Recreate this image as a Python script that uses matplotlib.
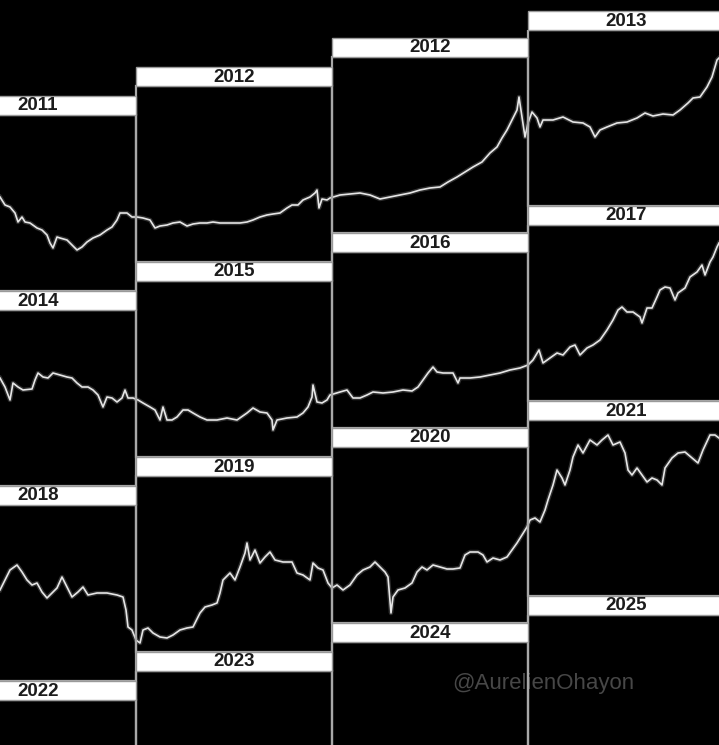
import numpy as np
import matplotlib.pyplot as plt
from matplotlib.patches import Rectangle

##DATA####
# year labels, one list per row of panels (left to right)
years_row0 = ["2011", "2012", "2012", "2013"]
years_row1 = ["2014", "2015", "2016", "2017"]
years_row2 = ["2018", "2019", "2020", "2021"]
years_row3 = ["2022", "2023", "2024", "2025"]

# price path of each row (position along row, level)
x_row0 = [0, 5, 10, 15, 18, 22, 25, 30, 37, 42, 47, 50, 53, 57, 60, 67, 72, 77, 82, 87,
          93, 100, 107, 112, 117, 120, 127, 132, 137, 143, 150, 155, 160, 167, 173, 180, 187, 193, 200, 207,
          213, 220, 227, 233, 240, 247, 253, 260, 267, 273, 280, 287, 292, 298, 303, 310, 315, 317, 319, 322,
          327, 330, 340, 350, 360, 370, 380, 390, 400, 410, 420, 430, 440, 448, 457, 465, 473, 482, 490, 497,
          502, 507, 512, 517, 519, 522, 525, 528, 532, 537, 540, 543, 553, 563, 573, 583, 590, 595, 600, 607,
          617, 627, 637, 645, 653, 663, 673, 680, 688, 693, 700, 707, 712, 717, 719]
lvl_row0 = [63, 55, 53, 47, 38, 43, 38, 37, 32, 30, 25, 17, 12, 23, 22, 20, 15, 10, 13, 18,
            22, 25, 30, 33, 40, 47, 47, 43, 43, 42, 40, 32, 34, 35, 37, 38, 34, 36, 37, 37,
            38, 37, 37, 37, 37, 38, 40, 43, 45, 46, 47, 52, 55, 55, 60, 63, 67, 70, 52, 61,
            60, 62, 65, 66, 67, 65, 61, 63, 65, 67, 70, 72, 73, 78, 83, 88, 93, 98, 107, 113,
            122, 130, 140, 150, 163, 143, 123, 137, 148, 142, 133, 140, 140, 143, 138, 137, 133, 123, 130, 133,
            137, 138, 142, 147, 144, 146, 145, 150, 157, 162, 163, 173, 183, 200, 202]

x_row1 = [0, 5, 10, 13, 18, 23, 32, 35, 38, 43, 48, 53, 60, 67, 72, 77, 82, 88, 93, 98,
          103, 107, 112, 117, 122, 125, 128, 133, 138, 143, 150, 155, 160, 163, 167, 172, 177, 183, 188, 193,
          200, 207, 217, 227, 237, 247, 253, 260, 267, 272, 273, 277, 287, 297, 303, 308, 312, 313, 317, 322,
          327, 330, 340, 347, 353, 360, 367, 373, 383, 393, 403, 412, 418, 423, 428, 433, 437, 443, 453, 458,
          460, 470, 480, 490, 500, 510, 520, 528, 533, 539, 543, 550, 557, 563, 570, 575, 580, 587, 593, 600,
          607, 613, 618, 622, 627, 633, 640, 642, 647, 652, 657, 660, 665, 670, 675, 678, 685, 690, 697, 702,
          705, 710, 713, 717, 719]
lvl_row1 = [62, 53, 40, 57, 53, 50, 51, 60, 67, 63, 62, 67, 65, 63, 62, 57, 53, 53, 50, 45,
            33, 43, 42, 38, 42, 50, 42, 42, 40, 37, 33, 30, 20, 33, 20, 20, 23, 30, 30, 27,
            23, 20, 20, 22, 20, 27, 32, 28, 27, 20, 10, 20, 22, 23, 27, 33, 43, 55, 38, 37,
            40, 45, 48, 50, 42, 42, 45, 48, 47, 48, 50, 49, 53, 60, 67, 73, 68, 67, 67, 57,
            62, 62, 63, 65, 67, 70, 72, 75, 80, 90, 77, 82, 87, 85, 93, 95, 85, 92, 95, 100,
            110, 120, 130, 133, 128, 128, 123, 117, 132, 132, 143, 150, 153, 152, 140, 147, 152, 163, 168, 175,
            165, 178, 183, 193, 197]

x_row2 = [0, 5, 10, 17, 22, 27, 32, 37, 42, 47, 52, 57, 62, 67, 72, 78, 83, 88, 97, 107,
          117, 123, 126, 128, 132, 136, 140, 143, 148, 153, 160, 167, 173, 180, 187, 193, 200, 205, 212, 217,
          220, 223, 230, 235, 240, 245, 247, 250, 255, 260, 265, 270, 275, 283, 292, 297, 303, 310, 313, 318,
          323, 328, 332, 337, 343, 350, 357, 363, 370, 375, 380, 385, 388, 391, 393, 398, 405, 412, 417, 422,
          427, 433, 440, 447, 453, 460, 465, 470, 478, 483, 487, 493, 500, 507, 512, 517, 522, 527, 530, 535,
          540, 545, 548, 553, 557, 562, 565, 570, 573, 578, 583, 590, 597, 602, 608, 613, 620, 625, 628, 632,
          637, 642, 647, 652, 657, 662, 665, 672, 678, 685, 692, 698, 703, 710, 715, 719]
lvl_row2 = [60, 70, 80, 85, 78, 70, 65, 67, 58, 52, 57, 62, 73, 63, 53, 58, 63, 55, 57, 57,
            55, 53, 40, 23, 20, 10, 7, 20, 22, 17, 13, 12, 15, 20, 22, 23, 37, 43, 45, 47,
            57, 70, 77, 70, 83, 97, 107, 90, 100, 87, 93, 98, 90, 88, 88, 77, 75, 70, 87, 82,
            80, 67, 62, 65, 60, 65, 75, 80, 83, 88, 83, 78, 73, 37, 53, 60, 62, 67, 78, 83,
            80, 85, 83, 81, 81, 82, 95, 98, 98, 95, 88, 92, 90, 93, 100, 107, 115, 123, 130, 132,
            128, 140, 150, 165, 180, 172, 165, 180, 193, 205, 197, 210, 205, 210, 215, 205, 208, 197, 180, 175,
            182, 175, 168, 172, 170, 165, 182, 192, 197, 198, 192, 187, 200, 215, 215, 212]

rows_x = [x_row0, x_row1, x_row2]
rows_lvl = [lvl_row0, lvl_row1, lvl_row2]
rows_years = [years_row0, years_row1, years_row2, years_row3]

##LAYOUT (pixels)####
W, H = 719, 745
col_left = [-60, 136, 332, 528]
col_top = [96, 67, 38, 11]
col_w = 196
period = 195
bar_h = 19
row_floor = [260, 440, 650]   # pixel y where level 0 sits
row_span = 230

fig = plt.figure(figsize=(W / 100.0, H / 100.0), dpi=100, facecolor='black')

# price lines, one axes per row spanning the full width
for i in range(0, 3):
    axr = fig.add_axes([0, (H - row_floor[i]) / H, 1, row_span / H])
    axr.set_xlim(0, W)
    axr.set_ylim(0, row_span)
    axr.axis('off')
    axr.patch.set_alpha(0)
    axr.plot(rows_x[i], rows_lvl[i], '-', color='#9a9a9a', lw=3.2, alpha=0.3,
             solid_joinstyle='round', clip_on=False)
    axr.plot(rows_x[i], rows_lvl[i], '-', color='#e6e6e6', lw=1.2,
             solid_joinstyle='round', clip_on=False)

# panels and labels on top
ax = fig.add_axes([0, 0, 1, 1])
ax.set_xlim(0, W)
ax.set_ylim(H, 0)
ax.axis('off')
ax.patch.set_alpha(0)

ax.text(543, 683, "@AurelienOhayon", color='#474747', fontsize=16,
        family='Liberation Sans', ha='center', va='center', zorder=1)

for c in range(0, 4):
    for r in range(0, 4):
        top = col_top[c] + r * period
        ax.add_patch(Rectangle((col_left[c], top + bar_h), col_w, period - bar_h,
                               facecolor='none', edgecolor='#a8a8a8', lw=1.6, zorder=2))
        ax.add_patch(Rectangle((col_left[c], top), col_w, bar_h,
                               facecolor='white', edgecolor='#9a9a9a', lw=1.0, zorder=3))
        ax.text(col_left[c] + col_w / 2.0, top + bar_h / 2.0 + 0.5, rows_years[r][c],
                color='#1c1c1c', fontsize=13.5, fontweight='bold', family='Liberation Sans',
                ha='center', va='center', zorder=4)

fig.savefig('out.png', dpi=100, facecolor='black')
